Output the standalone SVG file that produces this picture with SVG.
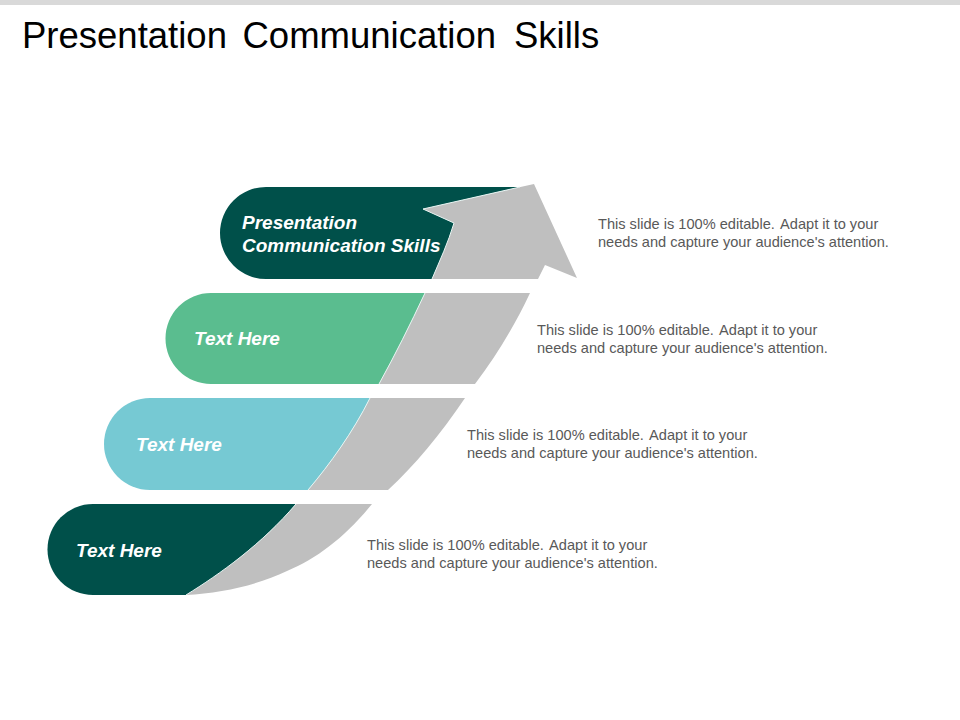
<svg xmlns="http://www.w3.org/2000/svg" width="960" height="720" viewBox="0 0 960 720">
<style>
.t{font-family:"Liberation Sans",Arial,sans-serif}
.h{font-size:19px;font-weight:bold;font-style:italic;fill:#fff}
.b{font-size:14.6px;fill:#595959}
.a{fill:#bfbfbf}
.e{fill:none;stroke:#e8f4f2;stroke-width:1}
</style>
<rect width="960" height="720" fill="#fff"/>
<rect width="960" height="5" fill="#d9d9d9"/>
<text class="t" y="48" font-size="36.5" fill="#000"><tspan x="22">Presentation </tspan><tspan x="242.5">Communication </tspan><tspan x="514">Skills</tspan></text>
<g id="connectors">
<path class="a" d="M186 595C220 574 262 544 296 504H372C345 537 318 558 287 571C258 585 222 593 186 595Z"/>
<path class="a" d="M308 490C330 464 353 432 370 398H465C440 435 415 465 388 490Z"/>
<path class="a" d="M379 384C395 355 410 325 425 293H530C515 325 497 355 475 384Z"/>
<path class="a" d="M432 279C440 260 448 243 454 223L423 209L534 184L577 278L545 265L538 279Z"/>
</g>
<g id="node1"><path d="M93 504H296C262 544 220 574 186 595H93A45.5 45.5 0 0 1 93 504Z" fill="#00504a"/><path class="e" d="M186 595C220 574 262 544 296 504"/><text class="t h" x="76" y="557">Text Here</text></g>
<g id="node2"><path d="M150 398H370C353 432 330 464 308 490H150A46 46 0 0 1 150 398Z" fill="#76c9d3"/><path class="e" d="M308 490C330 464 353 432 370 398"/><text class="t h" x="136" y="451">Text Here</text></g>
<g id="node3"><path d="M211 293H425C410 325 395 355 379 384H211A45.5 45.5 0 0 1 211 293Z" fill="#5abd8f"/><path class="e" d="M379 384C395 355 410 325 425 293"/><text class="t h" x="194" y="345">Text Here</text></g>
<g id="node4"><path d="M266 187H520L423 209L454 223C448 243 440 260 432 279H266A46 46 0 0 1 266 187Z" fill="#00504a"/><path class="e" d="M520 187L423 209L454 223C448 243 440 260 432 279"/><text class="t h" x="242" y="229">Presentation</text><text class="t h" x="242" y="252">Communication Skills</text></g>
<g id="text1"><text class="t b" x="367" y="550">This slide is 100% editable. <tspan dx="2">Adapt it to your</tspan></text><text class="t b" x="367" y="568">needs and capture your audience's attention.</text></g>
<g id="text2"><text class="t b" x="467" y="440">This slide is 100% editable. <tspan dx="2">Adapt it to your</tspan></text><text class="t b" x="467" y="458">needs and capture your audience's attention.</text></g>
<g id="text3"><text class="t b" x="537" y="335">This slide is 100% editable. <tspan dx="2">Adapt it to your</tspan></text><text class="t b" x="537" y="353">needs and capture your audience's attention.</text></g>
<g id="text4"><text class="t b" x="598" y="229">This slide is 100% editable. <tspan dx="2">Adapt it to your</tspan></text><text class="t b" x="598" y="247">needs and capture your audience's attention.</text></g>
</svg>
